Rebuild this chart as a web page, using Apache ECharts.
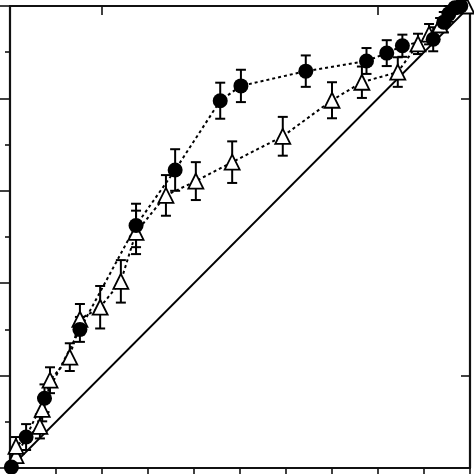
<!DOCTYPE html>
<html><head><meta charset="utf-8">
<script src="https://cdn.jsdelivr.net/npm/echarts@6/dist/echarts.min.js"></script>
<style>html,body{margin:0;padding:0;background:#fff}#c{width:474px;height:474px}</style>
</head><body><div id="c"></div>
<script>
// Filled circles series
const circleX = [0.003, 0.035, 0.075, 0.152, 0.274, 0.359, 0.457, 0.502, 0.643, 0.775, 0.819, 0.853, 0.920, 0.943, 0.954, 0.967, 0.980];
const circleY = [0.002, 0.067, 0.151, 0.300, 0.525, 0.645, 0.795, 0.827, 0.859, 0.881, 0.898, 0.914, 0.928, 0.965, 0.983, 0.996, 1.000];
const circleErr = [0, 0.028, 0.030, 0.027, 0.047, 0.045, 0.039, 0.035, 0.034, 0.028, 0.028, 0.024, 0.026, 0.022, 0.017, 0, 0];
// Open triangles series
const triX = [0.013, 0.013, 0.065, 0.070, 0.087, 0.130, 0.152, 0.196, 0.241, 0.274, 0.339, 0.404, 0.483, 0.593, 0.700, 0.765, 0.843, 0.887, 0.911, 0.935, 0.993];
const triY = [0.027, 0.047, 0.090, 0.127, 0.190, 0.240, 0.322, 0.348, 0.404, 0.510, 0.590, 0.621, 0.662, 0.718, 0.796, 0.835, 0.857, 0.918, 0.939, 0.959, 1.000];
const triErr = [0.015, 0.020, 0.026, 0.026, 0.028, 0.030, 0.033, 0.046, 0.046, 0.047, 0.044, 0.041, 0.045, 0.042, 0.039, 0.034, 0.032, 0.022, 0.022, 0.015, 0];
// Reference diagonal y = x
const diagX = [0, 1];
const diagY = [0, 1];
const majorTicks = [0.2, 0.8];

const zip = (xs, ys) => xs.map((x, i) => [x, ys[i]]);
const zip3 = (xs, ys, es) => xs.map((x, i) => [x, ys[i], es[i]]);

function errRender(params, api) {
  const x = api.value(0), y = api.value(1), e = api.value(2);
  if (!e) return null;
  const t = api.coord([x, y + e]), b = api.coord([x, y - e]);
  const hw = 5;
  const st = {stroke: '#000', lineWidth: 2};
  return {type: 'group', children: [
    {type: 'line', shape: {x1: t[0], y1: t[1], x2: b[0], y2: b[1]}, style: st},
    {type: 'line', shape: {x1: t[0]-hw, y1: t[1], x2: t[0]+hw, y2: t[1]}, style: st},
    {type: 'line', shape: {x1: b[0]-hw, y1: b[1], x2: b[0]+hw, y2: b[1]}, style: st}
  ]};
}

const chart = echarts.init(document.getElementById('c'), null, {renderer: 'canvas'});
const axisLine = {show: true, onZero: false, lineStyle: {color: '#111', width: 2.2}};
chart.setOption({
  animation: false,
  backgroundColor: '#fff',
  grid: {left: 10, right: 4, top: 6, bottom: 6, containLabel: false},
  xAxis: [
    {type: 'value', min: 0, max: 1, interval: 0.1, position: 'bottom',
     axisLine: axisLine, axisTick: {show: true, inside: false, length: 6, lineStyle: {color: '#111', width: 1.6}},
     axisLabel: {show: false}, splitLine: {show: false}},
    {type: 'value', min: 0, max: 1, position: 'top',
     axisLine: axisLine, axisTick: {show: true, inside: true, length: 9, customValues: majorTicks, lineStyle: {color: '#111', width: 1.6}},
     axisLabel: {show: false}, splitLine: {show: false}}
  ],
  yAxis: [
    {type: 'value', min: 0, max: 1, interval: 0.2, position: 'left',
     axisLine: axisLine, axisTick: {show: true, inside: false, length: 10, lineStyle: {color: '#111', width: 1.6}},
     minorTick: {show: true, splitNumber: 2, length: 5, lineStyle: {color: '#111', width: 1.6}},
     axisLabel: {show: false}, splitLine: {show: false}},
    {type: 'value', min: 0, max: 1, position: 'right',
     axisLine: axisLine, axisTick: {show: true, inside: true, length: 9, customValues: majorTicks, lineStyle: {color: '#111', width: 1.6}},
     axisLabel: {show: false}, splitLine: {show: false}}
  ],
  series: [
    {type: 'line', data: zip(diagX, diagY), symbol: 'none', lineStyle: {color: '#000', width: 1.8}, z: 1},
    {type: 'line', data: zip(triX, triY), symbol: 'none', lineStyle: {color: '#000', width: 2, type: [3, 3]}, z: 2},
    {type: 'line', data: zip(circleX, circleY), symbol: 'none', lineStyle: {color: '#000', width: 2, type: [3, 3]}, z: 2},
    {type: 'custom', data: zip3(triX, triY, triErr), renderItem: errRender, z: 3, clip: false},
    {type: 'custom', data: zip3(circleX, circleY, circleErr), renderItem: errRender, z: 3, clip: false},
    {type: 'scatter', data: zip(triX, triY), symbol: 'triangle', symbolSize: 15,
     itemStyle: {color: '#fff', borderColor: '#000', borderWidth: 1.8, opacity: 1}, z: 4, clip: false},
    {type: 'scatter', data: zip(circleX, circleY), symbol: 'circle', symbolSize: 15,
     itemStyle: {color: '#000', opacity: 1}, z: 5, clip: false}
  ]
});
</script></body></html>
